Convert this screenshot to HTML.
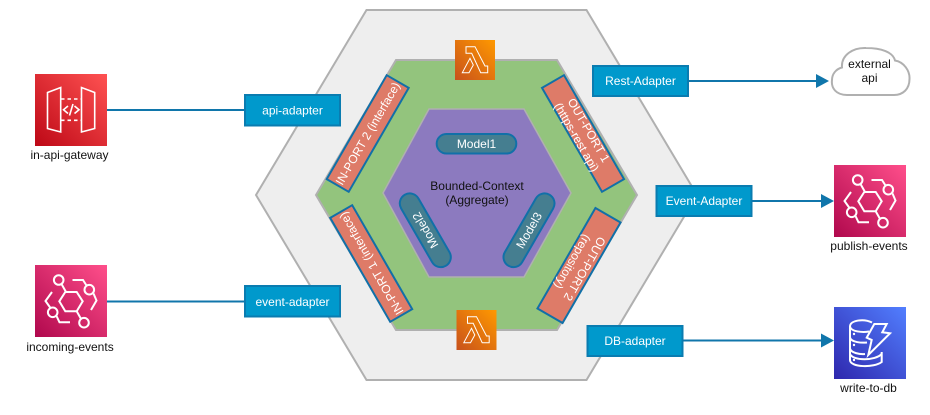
<!DOCTYPE html>
<html><head><meta charset="utf-8"><style>
html,body{margin:0;padding:0;background:#fff}
svg{display:block}
text{font-family:"Liberation Sans",Arial,sans-serif;font-size:12px;text-anchor:middle}
.w{fill:#fff}.b{fill:#111}
.ad{fill:#0099cc;stroke:#0a7cb0;stroke-width:2}
.port{fill:#de7b68;stroke:#1170a8;stroke-width:2}
.mod{fill:#457e90;stroke:#1170a8;stroke-width:2}
.ln{stroke:#1076ab;stroke-width:2;fill:none}
.ah{fill:#1076ab}
.ic{fill:none;stroke:#fff;stroke-width:1.6}
.ic2{fill:none;stroke:#fff;stroke-width:2}
.lam{fill:none;stroke:#fff;stroke-width:1}
</style></head><body>
<svg width="930" height="415" viewBox="0 0 930 415" xmlns="http://www.w3.org/2000/svg">
<defs>
<linearGradient id="r" x1="0" y1="1" x2="1" y2="0"><stop offset="0" stop-color="#bd0816"/><stop offset="1" stop-color="#ff5252"/></linearGradient>
<linearGradient id="p" x1="0" y1="1" x2="1" y2="0"><stop offset="0" stop-color="#b0084d"/><stop offset="1" stop-color="#ff4f8b"/></linearGradient>
<linearGradient id="d" x1="0" y1="1" x2="1" y2="0"><stop offset="0" stop-color="#2e27ad"/><stop offset="1" stop-color="#527fff"/></linearGradient>
<linearGradient id="o" x1="0" y1="1" x2="1" y2="0"><stop offset="0" stop-color="#c8511b"/><stop offset="1" stop-color="#ff9900"/></linearGradient>
</defs>

<polygon points="366.5,10 586.5,10 697,195 586.5,380 366.5,380 256,195" fill="#eeeeee" stroke="#b0b0b0" stroke-width="2"/>
<polygon points="396,60 557,60 637,195 557,330 396,330 316,195" fill="#93c47d" stroke="#b0b0b0" stroke-width="2"/>
<polygon points="429,109 524,109 571,193 524,277 429,277 383,193" fill="#8c7abf" stroke="#b0b0b0" stroke-width="1.5"/>

<!-- ports -->
<g transform="translate(367.7,133.5) rotate(-60)"><rect x="-60" y="-12.7" width="120" height="25.4" class="port"/><text class="w" y="4.2">IN-PORT 2 (interface)</text></g>
<g transform="translate(583,133.5) rotate(60)"><rect x="-60" y="-12.7" width="120" height="25.4" class="port"/><text class="w" y="-2.5">OUT-PORT 1</text><text class="w" y="11.5">(https-rest api)</text></g>
<g transform="translate(371.2,263.5) rotate(240)"><rect x="-60" y="-12.7" width="120" height="25.4" class="port"/><text class="w" y="4.2">IN-PORT 1 (interface)</text></g>
<g transform="translate(579,265.5) rotate(120)"><rect x="-58" y="-14.5" width="116" height="29" class="port"/><text class="w" y="-2.5">OUT-PORT 2</text><text class="w" y="11.5">(repository)</text></g>

<!-- models -->
<rect x="436.700" y="134" width="79.600" height="19.500" rx="9.700" class="mod"/><text class="w" x="476.500" y="148">Model1</text>
<g transform="translate(425.300,230.300) rotate(240)"><rect x="-41" y="-10" width="82" height="20" rx="10" class="mod"/><text class="w" y="4.200">Model2</text></g>
<g transform="translate(529,230.300) rotate(-60)"><rect x="-41" y="-10" width="82" height="20" rx="10" class="mod"/><text class="w" y="4.200">Model3</text></g>

<text class="b" x="477" y="190">Bounded-Context</text>
<text class="b" x="477" y="204">(Aggregate)</text>

<!-- lambda -->
<g transform="translate(455,40)"><rect width="40" height="40" fill="url(#o)"/><path class="lam" d="M11 6.700H20L30 26H32.700V32.700H25.700L16.700 13.300H11ZM15 18.300L18.300 25L14 32.700H7.300Z"/></g>
<g transform="translate(456.500,310)"><rect width="40" height="40" fill="url(#o)"/><path class="lam" d="M11 6.700H20L30 26H32.700V32.700H25.700L16.700 13.300H11ZM15 18.300L18.300 25L14 32.700H7.300Z"/></g>

<!-- connectors -->
<path class="ln" d="M107 110H244"/>
<path class="ln" d="M107 301.500H244"/>
<path class="ln" d="M689 81H817"/><polygon class="ah" points="816,74 829,81 816,88"/>
<path class="ln" d="M752 201H822"/><polygon class="ah" points="821,194 834,201 821,208"/>
<path class="ln" d="M683 340.500H822"/><polygon class="ah" points="821,333.500 834,340.500 821,347.500"/>

<!-- adapters -->
<rect x="245" y="95" width="95" height="30.500" class="ad"/><text class="w" x="292.500" y="114.500">api-adapter</text>
<rect x="245" y="286" width="95" height="30.500" class="ad"/><text class="w" x="292.500" y="306">event-adapter</text>
<rect x="593" y="66" width="95" height="30" class="ad"/><text class="w" x="640.500" y="85">Rest-Adapter</text>
<rect x="656.500" y="186" width="95" height="30" class="ad"/><text class="w" x="704" y="205">Event-Adapter</text>
<rect x="587.500" y="326" width="95" height="30" class="ad"/><text class="w" x="635" y="345">DB-adapter</text>

<!-- api gateway -->
<g transform="translate(35,74)"><rect width="72" height="72" fill="url(#r)"/>
<path class="ic" d="M12.500 18.500L25.700 13.500V58L12.500 54.500ZM59.700 18.500L46.500 13.500V58L59.700 54.500Z"/>
<path class="ic" d="M26 25H46M26 46.300H46" stroke-dasharray="3.500 3"/>
<path class="ic" d="M33 32L28.500 35.700L33 39.500M39.500 32L44 35.700L39.500 39.500M38 30L34.500 41.500"/></g>
<text class="b" x="69.500" y="159">in-api-gateway</text>

<!-- events -->
<g transform="translate(35,265)"><rect width="72" height="72" fill="url(#p)"/>
<g class="ic2"><polygon points="24.300,36.300 30.300,27 41.700,27 47.700,36.300 41.700,46.300 30.300,46.300"/>
<circle cx="23.700" cy="15" r="4.800"/><circle cx="54.300" cy="24.700" r="4.800"/><circle cx="17.700" cy="47.300" r="4.800"/><circle cx="49" cy="57.700" r="4.800"/>
<path d="M26.500 19L31 27M37.500 15H48L51.500 20.500M58.500 28.500L61.500 35.500L56 45M17 27L10.500 36L15.500 43M21.500 51L24.500 57.300H35M41.700 46.300L45.800 53.500"/></g></g>
<text class="b" x="70" y="351">incoming-events</text>

<g transform="translate(834,165)"><rect width="72" height="72" fill="url(#p)"/>
<g class="ic2"><polygon points="24.300,36.300 30.300,27 41.700,27 47.700,36.300 41.700,46.300 30.300,46.300"/>
<circle cx="23.700" cy="15" r="4.800"/><circle cx="54.300" cy="24.700" r="4.800"/><circle cx="17.700" cy="47.300" r="4.800"/><circle cx="49" cy="57.700" r="4.800"/>
<path d="M26.500 19L31 27M37.500 15H48L51.500 20.500M58.500 28.500L61.500 35.500L56 45M17 27L10.500 36L15.500 43M21.500 51L24.500 57.300H35M41.700 46.300L45.800 53.500"/></g></g>
<text class="b" x="869" y="250">publish-events</text>

<!-- dynamodb -->
<g transform="translate(834,307)"><rect width="72" height="72" fill="url(#d)"/>
<g class="ic2"><path d="M38 15.500C30 11.500 16 13 16 19.500V53C16 60.500 40 61 47.700 55V45"/>
<path d="M16 19.500C17 25 29 25.500 35 24.500M16 30.500C17 35.500 28 36 33 35.500M16 41.500C17 46 26 47.500 31 47M16 47C19 54 41 54 47.700 47"/>
<polygon points="40.300,17 52.700,17 48.300,25.300 56,26.300 34.300,48 37.700,33 32.700,30.700"/></g>
<circle cx="20" cy="27" r="1.200" fill="#fff"/><circle cx="20" cy="38" r="1.200" fill="#fff"/><circle cx="20" cy="53" r="1.200" fill="#fff"/></g>
<text class="b" x="868.500" y="392">write-to-db</text>

<!-- cloud -->
<path d="M847 95C836 95 831 88 832 80C832 74 836 69 842 67.500C841 55 853 47.500 866 48C881 48 893 52 895 60.500C904 62 910 71 909.500 79C909.500 89 903 95 894 95Z" fill="#fff" stroke="#b0b0b0" stroke-width="2"/>
<text class="b" x="869.500" y="68">external</text>
<text class="b" x="869.500" y="82">api</text>
</svg>
</body></html>
